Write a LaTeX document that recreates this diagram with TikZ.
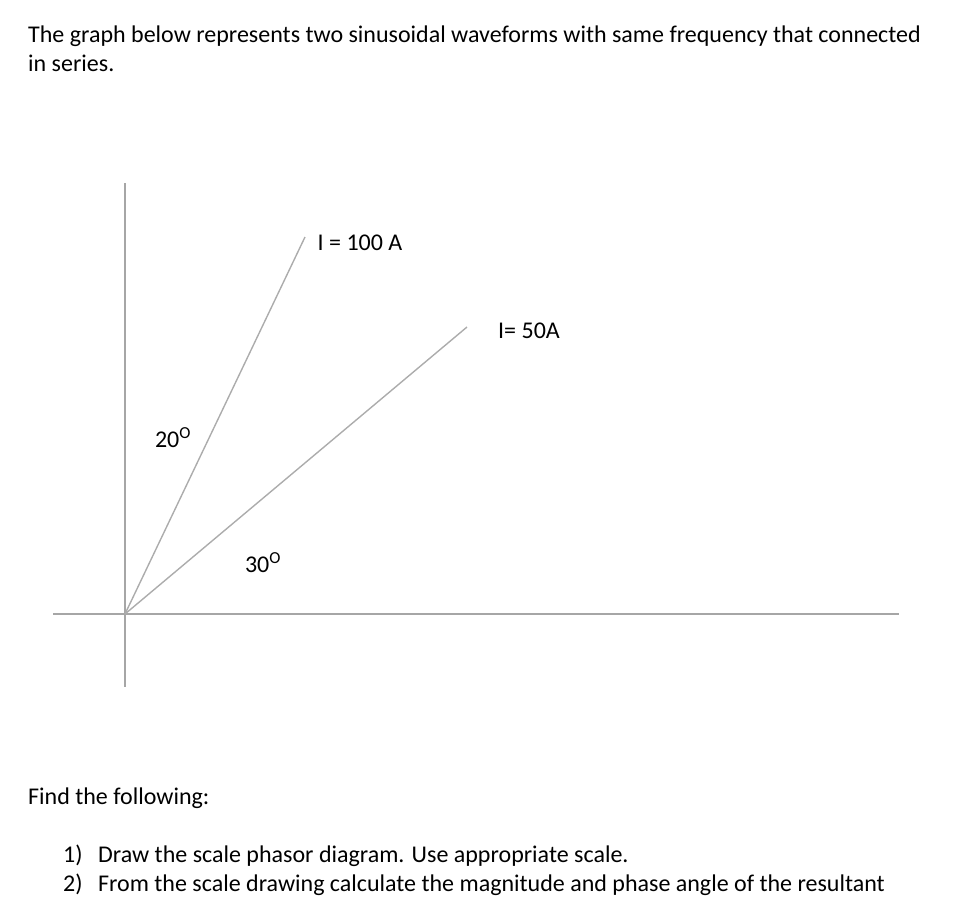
\documentclass[tikz,border=0pt]{standalone}
\usepackage{fontspec}
\setmainfont{Carlito}
\definecolor{axisgrey}{RGB}{166,166,166}
\definecolor{phasorgrey}{RGB}{172,172,172}
\tikzstyle{axis}=[
        draw=axisgrey,
        line width=2pt
]
\tikzstyle{phasor}=[
        draw=phasorgrey,
        line width=1.4pt
]
\tikzstyle{body}=[
        inner sep=0pt,
        anchor=base west,
        font=\fontsize{24}{28}\selectfont
]
\tikzstyle{label}=[
        inner sep=0pt,
        font=\fontsize{24}{28}\selectfont
]

\begin{document}
\begin{tikzpicture}[x=1pt,y=-1pt]
                    \useasboundingbox (0,0) rectangle (980,914);

                    \node[body] (title1) at (28,42) {The graph below represents two sinusoidal waveforms with same frequency that connected};
                    \node[body] (title2) at (28,71) {in series.};

                    \coordinate (O) at (125,614);
                    \coordinate (ytop) at (125,183);
                    \coordinate (ybot) at (125,687);
                    \coordinate (xleft) at (53,614);
                    \coordinate (xright) at (899,614);
                    \coordinate (Ia) at (305,237);
                    \coordinate (Ib) at (467,327);

                    \draw[axis] (ytop) -- (ybot);
                    \draw[axis] (xleft) -- (xright);

                    \draw[phasor] (O) -- (Ia);
                    \draw[phasor] (O) -- (Ib);

                    \node[label] (la) at (360,243) {I = 100 A};
                    \node[label] (lb) at (529,331) {I= 50A};
                    \node[label] (anga) at (173,438) {20\textsuperscript{O}};
                    \node[label] (angb) at (263,563) {30\textsuperscript{O}};

                    \node[body] (find) at (28,804) {Find the following:};
                    \node[body] (n1) at (63,862) {1)};
                    \node[body] (q1) at (98,862) {Draw the scale phasor diagram. Use appropriate scale.};
                    \node[body] (n2) at (63,891) {2)};
                    \node[body] (q2) at (98,891) {From the scale drawing calculate the magnitude and phase angle of the resultant};

                \end{tikzpicture}
\end{document}
